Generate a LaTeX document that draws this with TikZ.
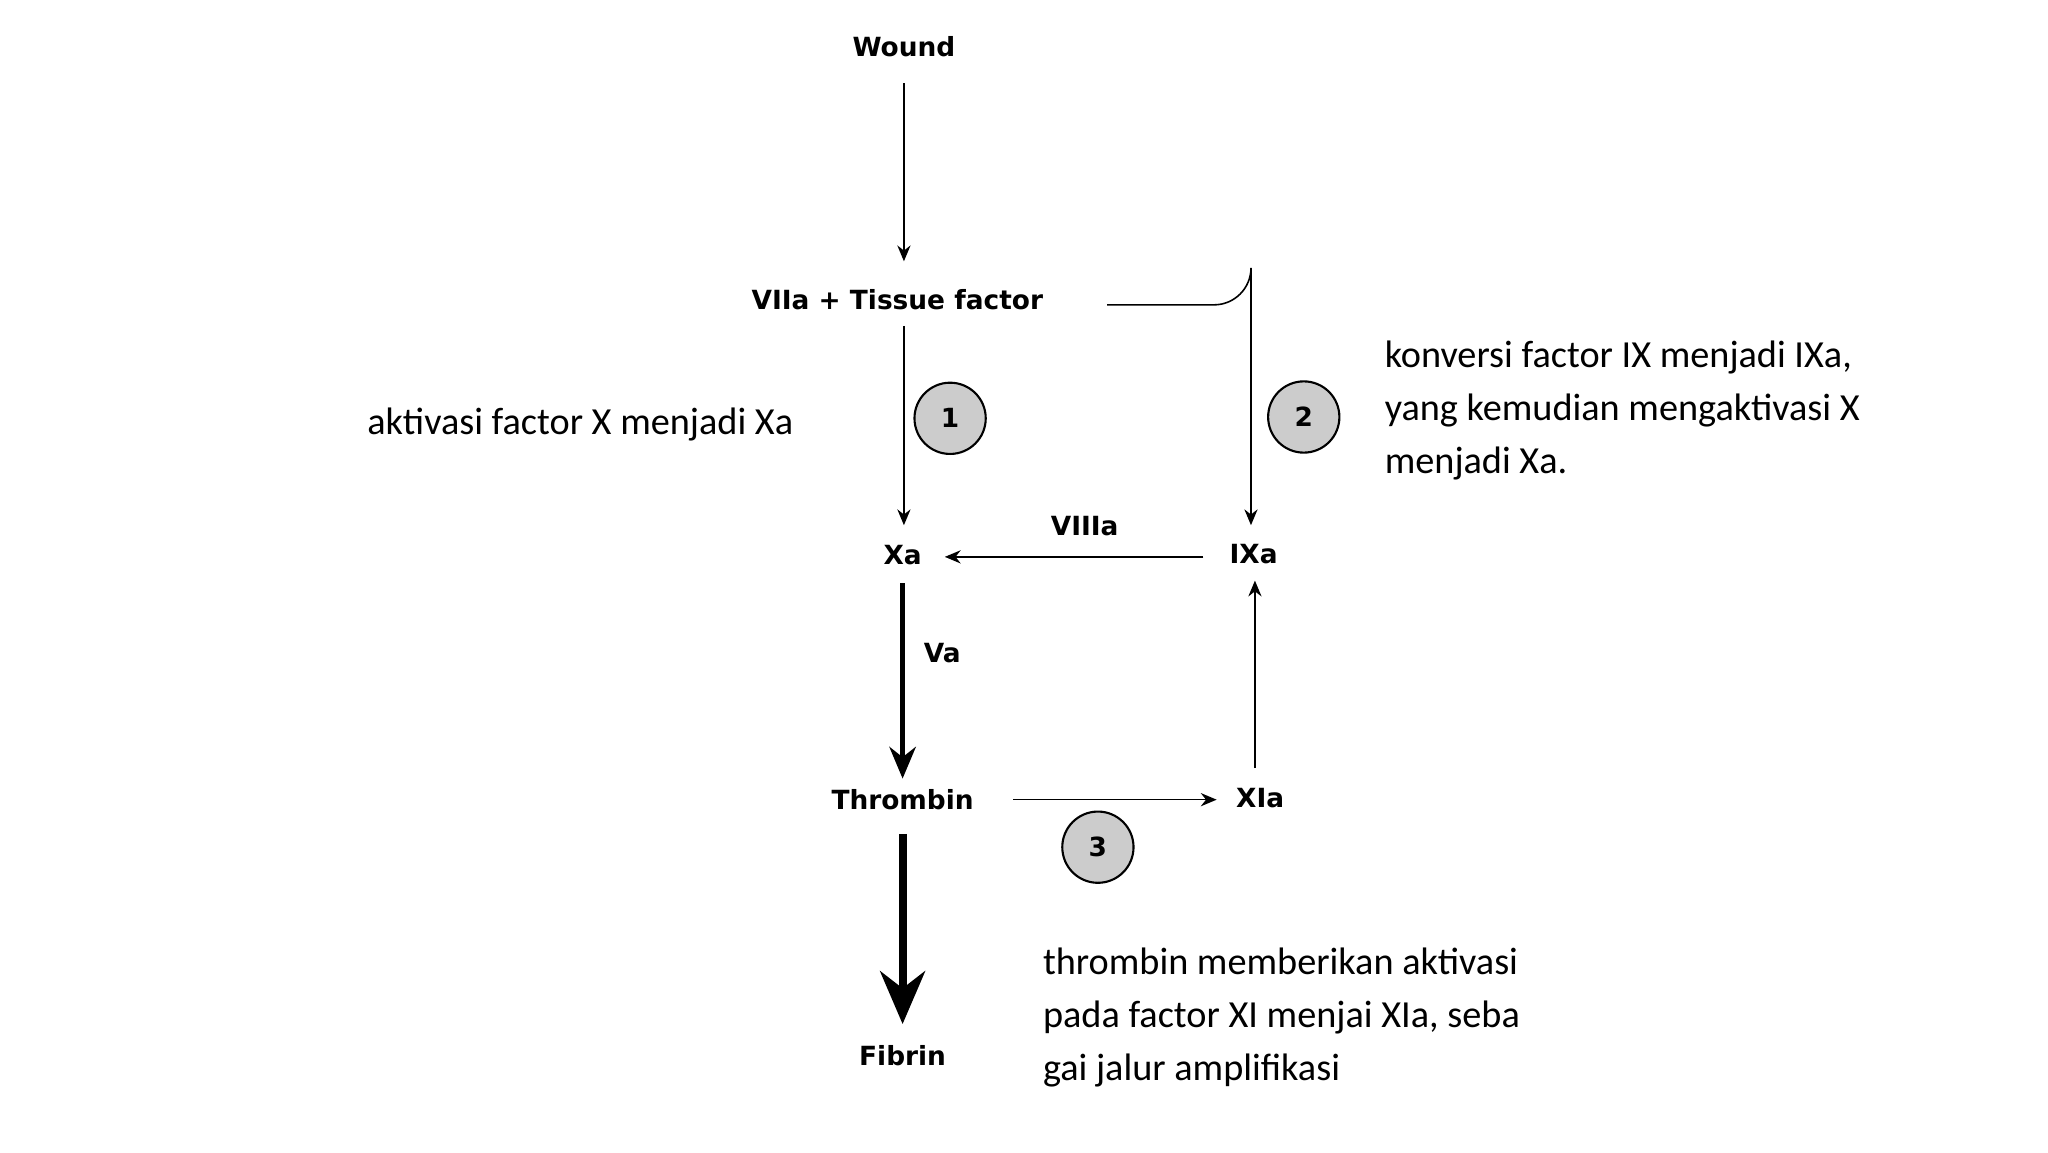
\documentclass[tikz,border=0pt]{standalone}
\usepackage{fontspec}
\setmainfont{Carlito}
\newfontfamily\lab{DejaVu Sans}
\usetikzlibrary{arrows.meta}
\begin{document}
\begin{tikzpicture}[x=0.5pt,y=-0.5pt,
 lbl/.style={font=\lab\bfseries\fontsize{10}{12}\selectfont,inner sep=0pt},
 txt/.style={font=\fontsize{14.5}{20}\selectfont,align=left,inner sep=0pt,anchor=west},
 num/.style={circle,draw,fill=gray!40,line width=0.8pt,minimum size=27pt,inner sep=0pt,font=\lab\bfseries\fontsize{10}{12}\selectfont},
 ar/.style={-{Stealth[length=6pt,width=5pt]},line width=0.6pt}]
\useasboundingbox (0,0) rectangle (1552,873);
\node[lbl] (w) at (685,35) {Wound};
\node[lbl] (v) at (680,227) {VIIa + Tissue factor};
\node[lbl] (xa) at (684,421) {Xa};
\node[lbl] (ixa) at (950,420) {IXa};
\node[lbl] (viii) at (822,399) {VIIIa};
\node[lbl] (va) at (714,495) {Va};
\node[lbl] (th) at (684,606) {Thrombin};
\node[lbl] (xia) at (955,605) {XIa};
\node[lbl] (fi) at (684,800) {Fibrin};
\node[num] (n1) at (720,317) {1};
\node[num] (n2) at (988,316) {2};
\node[num] (n3) at (832,642) {3};
\coordinate (c1) at (839,231);
\draw[ar] (685,63) -- (685,198);
\draw[ar] (685,247) -- (685,398);
\draw[ar] (c1) -- (920,231) arc[start angle=90,end angle=0,radius=28] -- (948,398);
\draw[ar] (912,422) -- (716,422);
\draw[-{Stealth[length=12pt,width=10pt]},line width=1.8pt] (684,442) -- (684,590);
\draw[ar] (768,606) -- (922,606);
\draw[ar] (951,582) -- (951,440);
\draw[-{Stealth[length=20pt,width=17pt]},line width=3pt] (684,632) -- (684,776);
\node[txt] (t1) at (278,322) {aktivasi factor X menjadi Xa};
\node[txt] (t2) at (1049,311) {konversi factor IX menjadi IXa,\\yang kemudian mengaktivasi X\\menjadi Xa.};
\node[txt] (t3) at (790,771) {thrombin memberikan aktivasi\\pada factor XI menjai XIa, seba\\gai jalur amplifikasi};
\end{tikzpicture}
\end{document}
